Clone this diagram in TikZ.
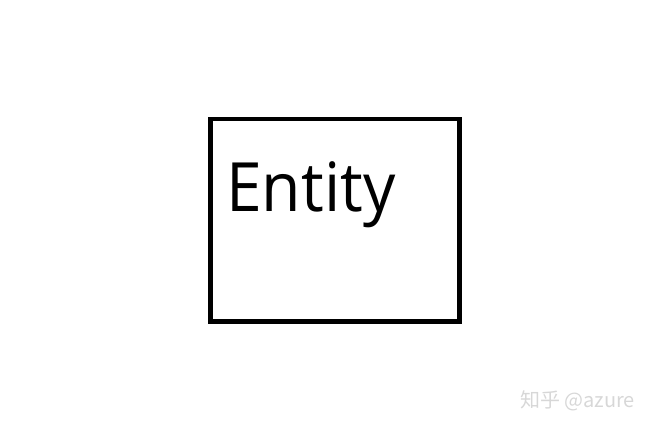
\documentclass[tikz,border=0pt]{standalone}
\usepackage{fontspec}
\setmainfont{Open Sans}
\newfontfamily\cjkfont{Noto Sans CJK SC}
\definecolor{wmgray}{RGB}{215,215,215}
\begin{document}
\begin{tikzpicture}[x=1pt,y=1pt,
  entitybox/.style={draw=black,line width=4.5pt,minimum width=249pt,minimum height=202.5pt,inner sep=0pt},
  entitytext/.style={anchor=base west,inner sep=0pt,xscale=0.945,font=\fontsize{68}{68}\selectfont},
  watermark/.style={anchor=base west,inner sep=0pt,text=wmgray,font=\cjkfont\fontsize{20}{20}\selectfont}]
\useasboundingbox (0,0) rectangle (653,430);
\node[entitybox] (box) at (335,209.75) {};
\node[entitytext] (label) at (226,218) {Entity};
\node[watermark] (wm) at (520,22) {知乎 @azure};
\end{tikzpicture}
\end{document}
